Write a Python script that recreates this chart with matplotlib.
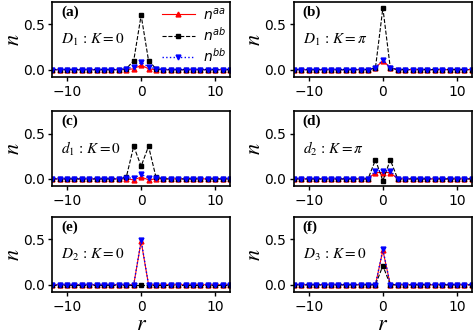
import numpy as np
import matplotlib
matplotlib.use("Agg")
import matplotlib.pyplot as plt

# sites
r = np.arange(-12, 13)

# densities (only r = -2..2 are non-zero)
z = [0.0] * 10
naa_a = z + [0.00, 0.01, 0.05, 0.01, 0.00] + z
nab_a = z + [0.01, 0.10, 0.60, 0.10, 0.01] + z
nbb_a = z + [0.01, 0.03, 0.08, 0.03, 0.01] + z

naa_b = z + [0.00, 0.02, 0.10, 0.02, 0.00] + z
nab_b = z + [0.00, 0.02, 0.68, 0.02, 0.00] + z
nbb_b = z + [0.00, 0.02, 0.11, 0.02, 0.00] + z

naa_c = z + [0.00, -0.01, 0.02, -0.01, 0.00] + z
nab_c = z + [0.02, 0.36, 0.14, 0.36, 0.02] + z
nbb_c = z + [0.01, 0.01, 0.05, 0.01, 0.01] + z

naa_d = z + [0.00, 0.07, 0.07, 0.07, 0.00] + z
nab_d = z + [0.00, 0.21, -0.02, 0.21, 0.00] + z
nbb_d = z + [0.00, 0.09, 0.09, 0.09, 0.00] + z

naa_e = z + [0.00, 0.00, 0.48, 0.00, 0.00] + z
nab_e = z + [0.00, 0.00, 0.00, 0.00, 0.00] + z
nbb_e = z + [0.00, 0.00, 0.49, 0.00, 0.00] + z

naa_f = z + [0.00, 0.00, 0.38, 0.00, 0.00] + z
nab_f = z + [0.00, 0.00, 0.21, 0.00, 0.00] + z
nbb_f = z + [0.00, 0.00, 0.39, 0.00, 0.00] + z

panel_tags = ["(a)", "(b)", "(c)", "(d)", "(e)", "(f)"]
state_labels = [r"$D_1\,:\,K=0$", r"$D_1\,:\,K=\pi$", r"$d_1\,:\,K=0$",
                r"$d_2\,:\,K=\pi$", r"$D_2\,:\,K=0$", r"$D_3\,:\,K=0$"]
series = [(naa_a, nab_a, nbb_a), (naa_b, nab_b, nbb_b), (naa_c, nab_c, nbb_c),
          (naa_d, nab_d, nbb_d), (naa_e, nab_e, nbb_e), (naa_f, nab_f, nbb_f)]

fig = plt.figure(figsize=(4.74, 3.33), dpi=100)

lefts = [0.110, 0.620]
bottoms = [0.769, 0.441, 0.123]
w, h = 0.3755, 0.226

for i in range(6):
    row, col = divmod(i, 2)
    ax = fig.add_axes([lefts[col], bottoms[row], w, h])
    naa, nab, nbb = series[i]
    ax.plot(r, naa, '-', color='red', marker='^', ms=3.5, lw=0.8, label=r'$n^{aa}$')
    ax.plot(r, nab, '--', color='black', marker='s', ms=3, lw=0.8, label=r'$n^{ab}$')
    ax.plot(r, nbb, ':', color='blue', marker='v', ms=3.5, lw=1.0, label=r'$n^{bb}$')

    ax.set_xlim(-12, 12)
    ax.set_ylim(-0.08, 0.75)
    ax.set_xticks([-10, 0, 10])
    ax.set_yticks([0.0, 0.5])
    ax.tick_params(labelsize=10, length=3, width=1, pad=2.5)
    for s in ax.spines.values():
        s.set_linewidth(1.2)

    ax.set_ylabel(r'$n$', fontsize=16, math_fontfamily='stix', labelpad=0)
    if row == 2:
        ax.set_xlabel(r'$r$', fontsize=16, math_fontfamily='stix', labelpad=0)

    ax.text(0.05, 0.95, panel_tags[i], transform=ax.transAxes, ha='left', va='top',
            fontsize=11, fontweight='bold', family='Liberation Serif')
    ax.text(0.05, 0.49, state_labels[i], transform=ax.transAxes, ha='left', va='center',
            fontsize=11, math_fontfamily='stix')

    if i == 0:
        ax.legend(loc='upper right', frameon=False, fontsize=10, handlelength=2.4,
                  borderaxespad=0.1, labelspacing=0.25, handletextpad=0.6,
                  bbox_to_anchor=(1.02, 1.03))

fig.savefig("out.png", dpi=100)
